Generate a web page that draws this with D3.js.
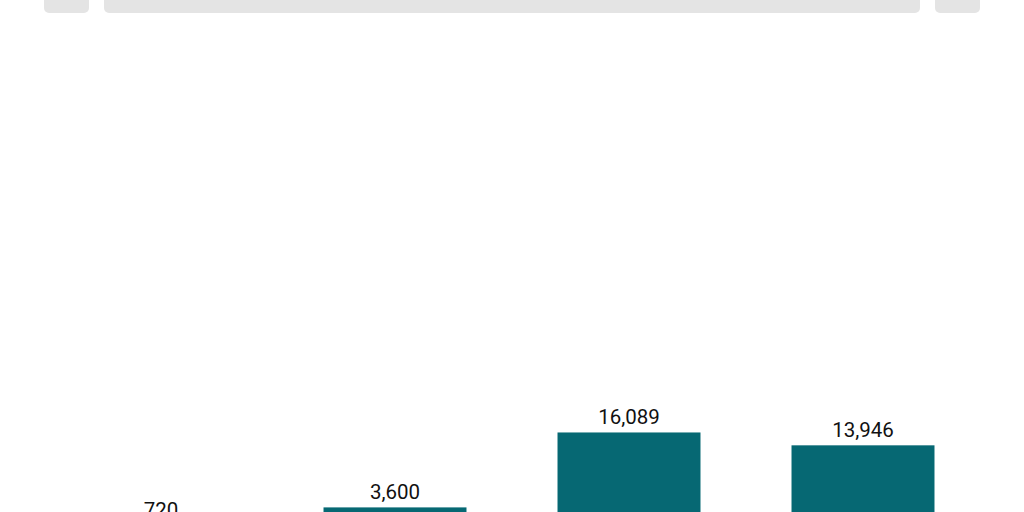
<!DOCTYPE html>
<html>
<head>
<meta charset="utf-8">
<script src="https://cdn.jsdelivr.net/npm/d3@7"></script>
<style>
  html, body { margin: 0; padding: 0; background: #fff; overflow: hidden; }
  #chart { width: 1024px; height: 512px; }
</style>
</head>
<body>
<div id="chart"></div>
<script>
// data
var categories = ["A", "B", "C", "D"];
var values = [720, 3600, 16089, 13946];

// grey placeholder bars across the top (left / middle / right)
var topBlocks = [
  { x0: 44, x1: 89 },
  { x0: 104, x1: 920 },
  { x0: 935, x1: 980 }
];

var width = 1024, height = 512;

var svg = d3.select("#chart").append("svg")
  .attr("width", width)
  .attr("height", height);

svg.selectAll(".block")
  .data(topBlocks)
  .enter().append("rect")
  .attr("class", "block")
  .attr("x", function (d) { return d.x0; })
  .attr("y", -10)
  .attr("width", function (d) { return d.x1 - d.x0; })
  .attr("height", 23)
  .attr("rx", 5)
  .style("fill", "#e4e4e4");

// plot runs past the bottom of the window, so zero sits below the frame
var x = d3.scaleBand()
  .domain(categories)
  .range([44, 980])
  .paddingInner(0.389)
  .paddingOuter(0.1945);

var y = d3.scaleLinear()
  .domain([0, 80000])
  .range([529, 49]);

var rows = categories.map(function (c, i) { return { cat: c, value: values[i] }; });

svg.selectAll(".bar")
  .data(rows)
  .enter().append("rect")
  .attr("class", "bar")
  .attr("x", function (d) { return x(d.cat); })
  .attr("y", function (d) { return y(d.value); })
  .attr("width", x.bandwidth())
  .attr("height", function (d) { return y(0) - y(d.value); })
  .style("fill", "#066873");

var fmt = d3.format(",");

svg.selectAll(".label")
  .data(rows)
  .enter().append("text")
  .attr("class", "label")
  .attr("x", function (d) { return x(d.cat) + x.bandwidth() / 2; })
  .attr("y", function (d) { return y(d.value) - 8; })
  .attr("text-anchor", "middle")
  .style("font-family", "Roboto, sans-serif")
  .style("font-size", "20.5px")
  .style("fill", "#111")
  .text(function (d) { return fmt(d.value); });
</script>
</body>
</html>
